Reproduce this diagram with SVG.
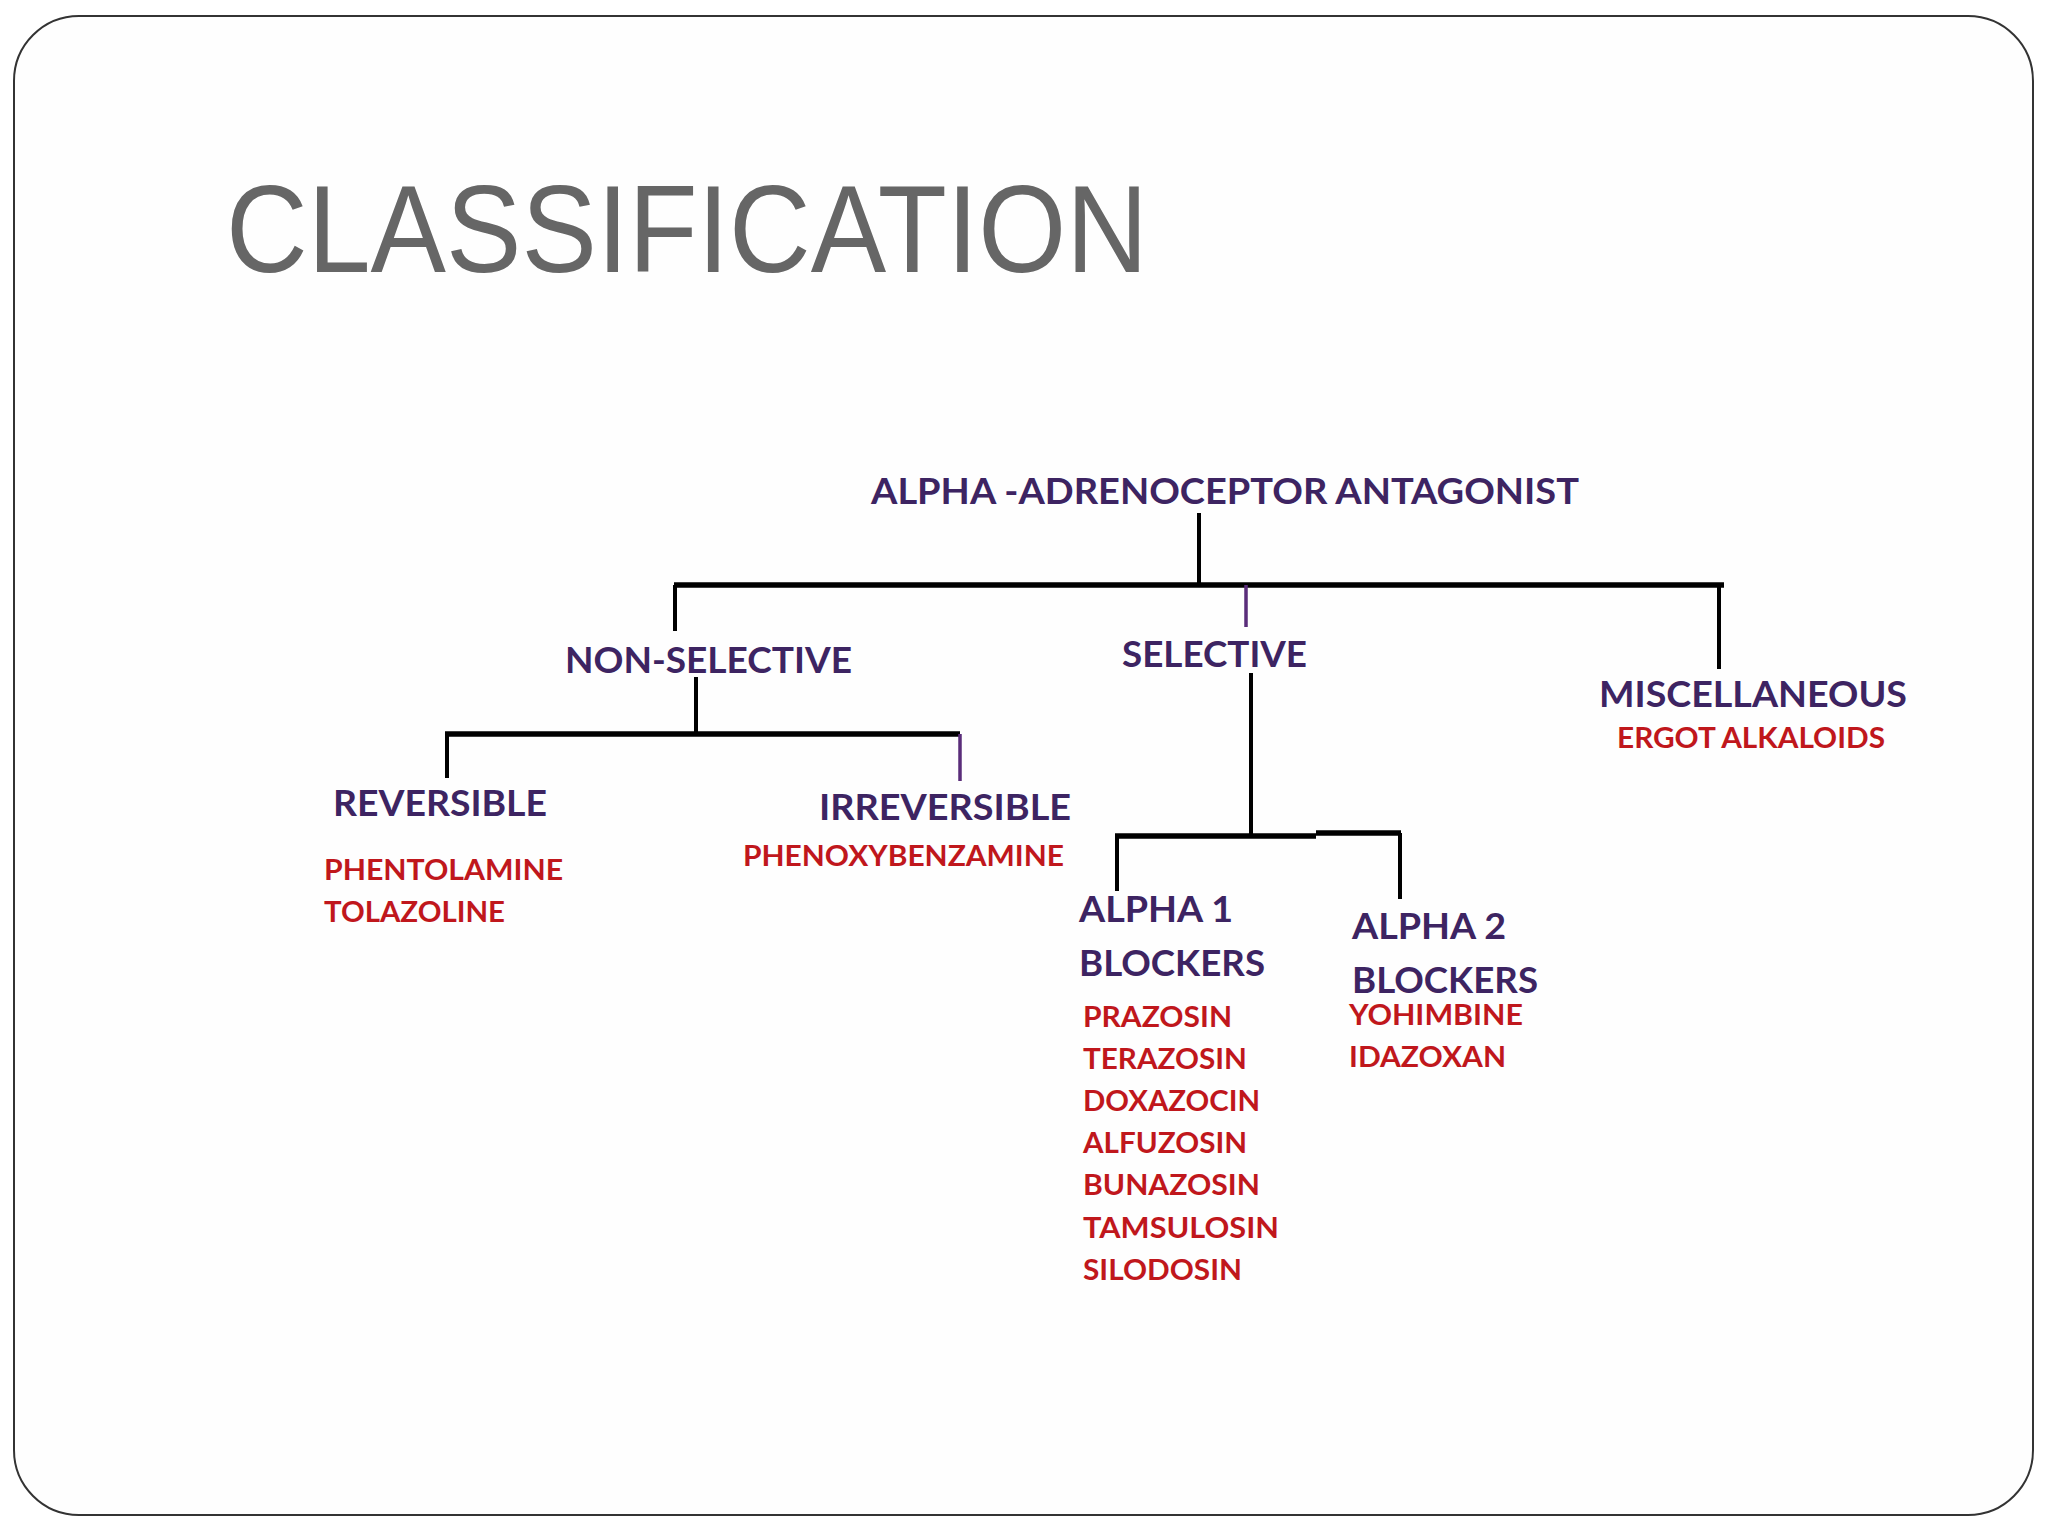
<svg xmlns="http://www.w3.org/2000/svg" width="2048" height="1536" viewBox="0 0 2048 1536">
<style>
.p{font-family:Lato,"Open Sans",sans-serif;font-weight:bold;font-size:37px;fill:#3d2462}
.r{font-family:Lato,"Open Sans",sans-serif;font-weight:bold;font-size:29px;fill:#c0171c}
.k{stroke:#000;stroke-width:4;fill:none}
.t{stroke:#000;stroke-width:5.5;fill:none}
.v{stroke:#5a2d7a;stroke-width:3.5;fill:none}
</style>
<rect x="0" y="0" width="2048" height="1536" fill="#fff"/>
<rect x="14" y="16" width="2019" height="1499" rx="65" fill="#fefefe" stroke="#333" stroke-width="2"/>
<text x="226" y="272" font-family="Liberation Sans,Arial,sans-serif" font-size="124" fill="#666" textLength="922" lengthAdjust="spacingAndGlyphs">CLASSIFICATION</text>
<g id="connectors">
<path class="k" d="M1199 513V585M675 585V631M1719 585V669M696 677V734M447 734V778M1251 673V836M1117 836V891M1400 833V899"/>
<path class="t" d="M674 585H1724M445 734H960M1115 836H1316M1316 833H1401"/>
<path class="v" d="M1246 585V627M960 734V781"/>
</g>
<g id="root"><text class="p" x="871" y="504" textLength="708" lengthAdjust="spacingAndGlyphs">ALPHA -ADRENOCEPTOR ANTAGONIST</text></g>
<g id="nonselective"><text class="p" x="565" y="673" textLength="287" lengthAdjust="spacingAndGlyphs">NON-SELECTIVE</text></g>
<g id="selective"><text class="p" x="1122" y="667" textLength="185" lengthAdjust="spacingAndGlyphs">SELECTIVE</text></g>
<g id="misc"><text class="p" x="1599" y="707" textLength="308" lengthAdjust="spacingAndGlyphs">MISCELLANEOUS</text>
<text class="r" x="1617" y="748" textLength="268" lengthAdjust="spacingAndGlyphs">ERGOT ALKALOIDS</text></g>
<g id="reversible"><text class="p" x="333" y="816" textLength="214" lengthAdjust="spacingAndGlyphs">REVERSIBLE</text>
<text class="r" x="324" y="880" textLength="239" lengthAdjust="spacingAndGlyphs">PHENTOLAMINE</text>
<text class="r" x="324" y="922" textLength="181" lengthAdjust="spacingAndGlyphs">TOLAZOLINE</text></g>
<g id="irreversible"><text class="p" x="819" y="820" textLength="252" lengthAdjust="spacingAndGlyphs">IRREVERSIBLE</text>
<text class="r" x="743" y="866" textLength="321" lengthAdjust="spacingAndGlyphs">PHENOXYBENZAMINE</text></g>
<g id="alpha1"><text class="p" x="1079" y="922" textLength="154" lengthAdjust="spacingAndGlyphs">ALPHA 1</text>
<text class="p" x="1079" y="976" textLength="186" lengthAdjust="spacingAndGlyphs">BLOCKERS</text>
<text class="r" x="1083" y="1027" textLength="149" lengthAdjust="spacingAndGlyphs">PRAZOSIN</text>
<text class="r" x="1083" y="1069" textLength="164" lengthAdjust="spacingAndGlyphs">TERAZOSIN</text>
<text class="r" x="1083" y="1111" textLength="177" lengthAdjust="spacingAndGlyphs">DOXAZOCIN</text>
<text class="r" x="1083" y="1153" textLength="164" lengthAdjust="spacingAndGlyphs">ALFUZOSIN</text>
<text class="r" x="1083" y="1195" textLength="177" lengthAdjust="spacingAndGlyphs">BUNAZOSIN</text>
<text class="r" x="1083" y="1238" textLength="196" lengthAdjust="spacingAndGlyphs">TAMSULOSIN</text>
<text class="r" x="1083" y="1280" textLength="159" lengthAdjust="spacingAndGlyphs">SILODOSIN</text></g>
<g id="alpha2"><text class="p" x="1352" y="939" textLength="154" lengthAdjust="spacingAndGlyphs">ALPHA 2</text>
<text class="p" x="1352" y="993" textLength="186" lengthAdjust="spacingAndGlyphs">BLOCKERS</text>
<text class="r" x="1349" y="1025" textLength="174" lengthAdjust="spacingAndGlyphs">YOHIMBINE</text>
<text class="r" x="1349" y="1067" textLength="157" lengthAdjust="spacingAndGlyphs">IDAZOXAN</text></g>
</svg>
